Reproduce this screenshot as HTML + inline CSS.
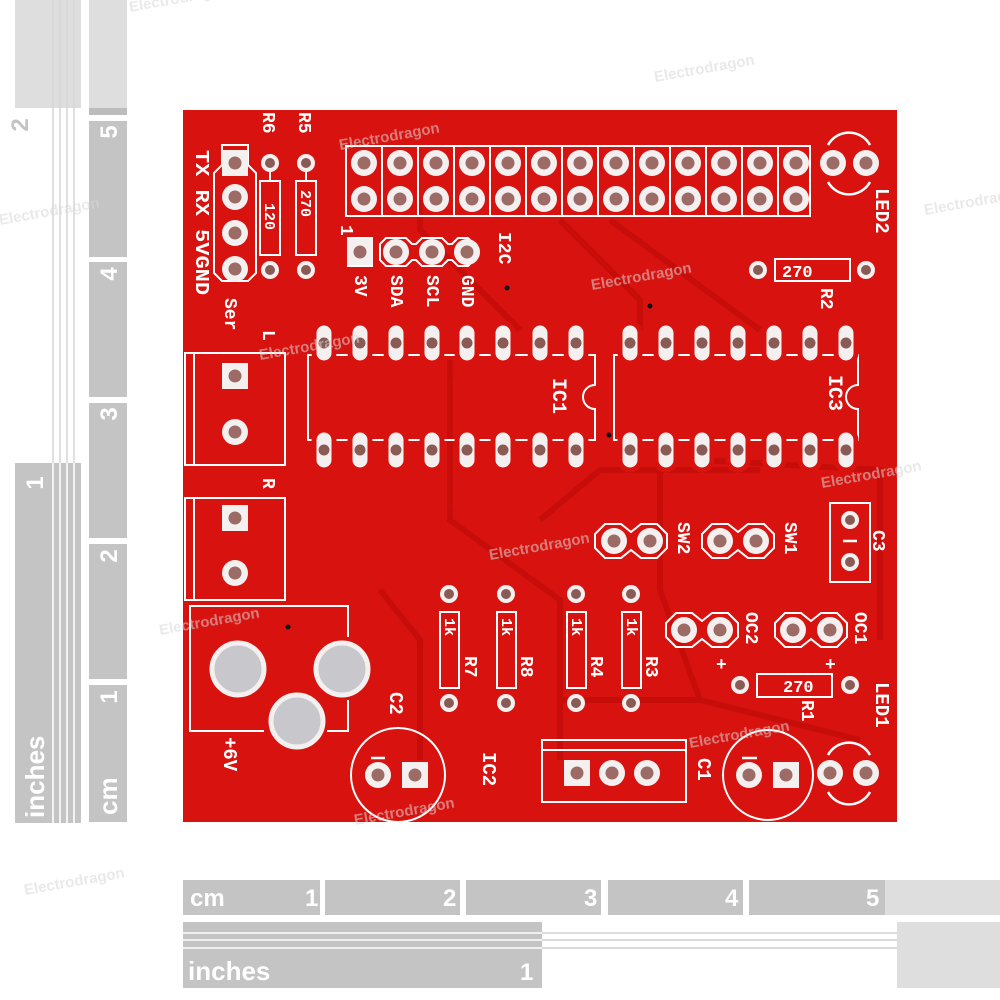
<!DOCTYPE html>
<html><head><meta charset="utf-8"><style>
html,body{margin:0;padding:0;background:#fff;}
svg{display:block;}
.s{font-family:"Liberation Mono","DejaVu Sans Mono",monospace;font-weight:bold;fill:#fff;}
.r{font-family:"Liberation Sans",sans-serif;font-weight:bold;fill:#fff;}
.w{font-family:"Liberation Sans",sans-serif;font-weight:bold;fill:#d8d8d8;font-size:15px;}
</style></head><body>
<svg width="1000" height="1000" viewBox="0 0 1000 1000" xmlns="http://www.w3.org/2000/svg">
<defs>
<g id="p"><circle r="13" fill="#f4f0f0"/><circle r="6.5" fill="#9c6b66"/></g>
<g id="q"><rect x="-13" y="-13" width="26" height="26" fill="#f4f0f0"/><circle r="6.5" fill="#9c6b66"/></g>
<g id="sp"><circle r="9" fill="#f4f0f0"/><circle r="5" fill="#8a5a55"/></g>
<g id="ov"><rect x="-10" y="-20" width="20" height="40" rx="10" fill="#f4f0f0" stroke="#d8130f" stroke-width="5"/><circle r="5.5" fill="#8a5a55"/></g>
</defs>

<!-- left inches ruler -->
<rect x="15" y="0" width="66" height="108" fill="#dedede"/>
<rect x="15" y="463" width="66" height="360" fill="#c4c4c4"/>
<g stroke="#d6d6d6" stroke-width="1.5" fill="none">
<line x1="53" y1="0" x2="53" y2="823"/><line x1="60" y1="0" x2="60" y2="823"/><line x1="67" y1="0" x2="67" y2="823"/><line x1="74" y1="0" x2="74" y2="823"/>
</g>
<g stroke="#fff" stroke-width="1.5">
<line x1="53" y1="463" x2="53" y2="823"/><line x1="60" y1="463" x2="60" y2="823"/><line x1="67" y1="463" x2="67" y2="823"/><line x1="74" y1="463" x2="74" y2="823"/>
</g>
<text class="r" x="0" y="0" font-size="24" style="fill:#c4c4c4" transform="translate(28,125) rotate(-90)" text-anchor="middle">2</text>
<text class="r" x="0" y="0" font-size="24" transform="translate(43,483) rotate(-90)" text-anchor="middle">1</text>
<text class="r" x="0" y="0" font-size="26" transform="translate(44,818) rotate(-90)">inches</text>
<!-- left cm ruler -->
<rect x="89" y="0" width="38" height="108" fill="#dedede"/>
<rect x="89" y="108" width="38" height="7" fill="#bcbcbc"/>
<g fill="#c4c4c4">
<rect x="89" y="121" width="38" height="136"/><rect x="89" y="262" width="38" height="135"/><rect x="89" y="403" width="38" height="135"/><rect x="89" y="544" width="38" height="135"/><rect x="89" y="685" width="38" height="137"/>
</g>
<g class="r" font-size="24" text-anchor="middle">
<text transform="translate(117,132) rotate(-90)">5</text>
<text transform="translate(117,274) rotate(-90)">4</text>
<text transform="translate(117,414) rotate(-90)">3</text>
<text transform="translate(117,556) rotate(-90)">2</text>
<text transform="translate(117,697) rotate(-90)">1</text>
</g>
<text class="r" font-size="26" transform="translate(117,815) rotate(-90)">cm</text>

<!-- bottom rulers -->
<g fill="#c4c4c4">
<rect x="183" y="880" width="137" height="35"/><rect x="325" y="880" width="135" height="35"/><rect x="466" y="880" width="135" height="35"/><rect x="608" y="880" width="135" height="35"/><rect x="749" y="880" width="136" height="35"/>
<rect x="183" y="922" width="359" height="66"/>
</g>
<rect x="885" y="880" width="115" height="35" fill="#dedede"/>
<rect x="897" y="922" width="103" height="66" fill="#dedede"/>
<g stroke="#fff" stroke-width="1.5"><line x1="183" y1="933" x2="542" y2="933"/><line x1="183" y1="940" x2="542" y2="940"/><line x1="183" y1="948" x2="542" y2="948"/></g>
<g stroke="#d0d0d0" stroke-width="1.5"><line x1="542" y1="933" x2="897" y2="933"/><line x1="542" y1="940" x2="897" y2="940"/><line x1="542" y1="948" x2="897" y2="948"/></g>
<g class="r" font-size="24">
<text x="190" y="906">cm</text><text x="305" y="906">1</text><text x="443" y="906">2</text><text x="584" y="906">3</text><text x="725" y="906">4</text><text x="866" y="906">5</text>
<text x="188" y="980" font-size="26">inches</text><text x="520" y="980">1</text>
</g>

<!-- PCB -->
<rect x="183" y="110" width="714" height="712" fill="#d8130f"/>
<g stroke="#c40c0a" stroke-width="6" fill="none" opacity="0.8">
<path d="M420 200 L420 230 L520 330"/><path d="M560 220 L640 300 L640 330"/><path d="M610 220 L760 330"/><path d="M450 360 L450 520 L560 600 L560 760"/><path d="M540 520 L600 470 L760 470"/><path d="M380 590 L420 640 L420 760"/><path d="M660 470 L660 590 L700 700"/><path d="M700 460 L880 470 L880 640"/><path d="M560 700 L700 700 L860 740"/>
</g>

<!-- header 2x13 -->
<g>
<use href="#p" x="364" y="163"/><use href="#p" x="364" y="199"/>
<use href="#p" x="400" y="163"/><use href="#p" x="400" y="199"/>
<use href="#p" x="436" y="163"/><use href="#p" x="436" y="199"/>
<use href="#p" x="472" y="163"/><use href="#p" x="472" y="199"/>
<use href="#p" x="508" y="163"/><use href="#p" x="508" y="199"/>
<use href="#p" x="544" y="163"/><use href="#p" x="544" y="199"/>
<use href="#p" x="580" y="163"/><use href="#p" x="580" y="199"/>
<use href="#p" x="616" y="163"/><use href="#p" x="616" y="199"/>
<use href="#p" x="652" y="163"/><use href="#p" x="652" y="199"/>
<use href="#p" x="688" y="163"/><use href="#p" x="688" y="199"/>
<use href="#p" x="724" y="163"/><use href="#p" x="724" y="199"/>
<use href="#p" x="760" y="163"/><use href="#p" x="760" y="199"/>
<use href="#p" x="796" y="163"/><use href="#p" x="796" y="199"/>
</g>
<g stroke="#fff" stroke-width="2" fill="none">
<path d="M346 146 h464 v70 h-464 z"/>
<line x1="382" y1="146" x2="382" y2="216"/><line x1="418" y1="146" x2="418" y2="216"/><line x1="454" y1="146" x2="454" y2="216"/><line x1="490" y1="146" x2="490" y2="216"/><line x1="526" y1="146" x2="526" y2="216"/><line x1="562" y1="146" x2="562" y2="216"/><line x1="598" y1="146" x2="598" y2="216"/><line x1="634" y1="146" x2="634" y2="216"/><line x1="670" y1="146" x2="670" y2="216"/><line x1="706" y1="146" x2="706" y2="216"/><line x1="742" y1="146" x2="742" y2="216"/><line x1="778" y1="146" x2="778" y2="216"/>
</g>
<!-- LED2 -->
<path d="M828 145 A24 24 0 0 1 870 145 M828 182 A24 24 0 0 0 870 182" stroke="#fff" stroke-width="2.5" fill="none"/>
<use href="#p" x="833" y="163"/><use href="#p" x="866" y="163"/>
<text class="s" font-size="19" transform="translate(876,188) rotate(90)">LED2</text>

<!-- Ser header -->
<path d="M222 145 h26 v20 l8 8 v100 l-8 8 h-26 l-8 -8 v-100 l8 -8 z" stroke="#fff" stroke-width="2" fill="none"/>
<use href="#q" x="235" y="163"/><use href="#p" x="235" y="197"/><use href="#p" x="235" y="233"/><use href="#p" x="235" y="269"/>
<text class="s" font-size="19" textLength="145" lengthAdjust="spacingAndGlyphs" transform="translate(196,150) rotate(90)">TX RX 5VGND</text>
<text class="s" font-size="18" transform="translate(225,298) rotate(90)">Ser</text>
<!-- R6 R5 -->
<use href="#sp" x="270" y="163"/><use href="#sp" x="270" y="270"/><use href="#sp" x="306" y="163"/><use href="#sp" x="306" y="270"/>
<rect x="260" y="181" width="20" height="74" fill="none" stroke="#fff" stroke-width="2"/>
<rect x="296" y="181" width="20" height="74" fill="none" stroke="#fff" stroke-width="2"/>
<line x1="270" y1="172" x2="270" y2="181" stroke="#fff" stroke-width="2"/><line x1="306" y1="172" x2="306" y2="181" stroke="#fff" stroke-width="2"/>
<text class="s" font-size="15" transform="translate(265,203) rotate(90)">120</text>
<text class="s" font-size="15" transform="translate(301,190) rotate(90)">270</text>
<text class="s" font-size="18" transform="translate(263,112) rotate(90)">R6</text>
<text class="s" font-size="18" transform="translate(299,112) rotate(90)">R5</text>

<!-- I2C -->
<path d="M348 238 h24 v28 h-24z M386 238 h20 l6 6 h4 l6 -6 h20 l6 6 h4 l6 -6 h10 l6 6 v16 l-6 6 h-10 l-6 -6 h-4 l-6 6 h-20 l-6 -6 h-4 l-6 6 h-20 l-6 -6 v-16 z" stroke="#fff" stroke-width="2" fill="none"/>
<use href="#q" x="360" y="252"/><use href="#p" x="396" y="252"/><use href="#p" x="432" y="252"/><use href="#p" x="467" y="252"/>
<text class="s" font-size="18" transform="translate(341,225) rotate(90)">1</text>
<text class="s" font-size="18" transform="translate(355,275) rotate(90)">3V</text>
<text class="s" font-size="18" transform="translate(391,275) rotate(90)">SDA</text>
<text class="s" font-size="18" transform="translate(427,275) rotate(90)">SCL</text>
<text class="s" font-size="18" transform="translate(462,275) rotate(90)">GND</text>
<text class="s" font-size="18" transform="translate(499,232) rotate(90)">I2C</text>
<circle cx="507" cy="288" r="2.5" fill="#111"/>
<circle cx="650" cy="306" r="2.5" fill="#111"/><circle cx="609" cy="435" r="2.5" fill="#111"/><circle cx="288" cy="627" r="2.5" fill="#111"/>

<!-- IC1 -->
<path d="M308 355 h287 v30 a12 12 0 0 0 0 24 v31 h-287 z" stroke="#fff" stroke-width="2" fill="none"/>
<g>
<use href="#ov" x="324" y="343"/><use href="#ov" x="360" y="343"/><use href="#ov" x="396" y="343"/><use href="#ov" x="432" y="343"/><use href="#ov" x="467" y="343"/><use href="#ov" x="503" y="343"/><use href="#ov" x="540" y="343"/><use href="#ov" x="576" y="343"/>
<use href="#ov" x="324" y="450"/><use href="#ov" x="360" y="450"/><use href="#ov" x="396" y="450"/><use href="#ov" x="432" y="450"/><use href="#ov" x="467" y="450"/><use href="#ov" x="503" y="450"/><use href="#ov" x="540" y="450"/><use href="#ov" x="576" y="450"/>
</g>
<text class="s" font-size="20" transform="translate(553,378) rotate(90)">IC1</text>
<!-- IC3 -->
<path d="M614 355 h244 v30 a12 12 0 0 0 0 24 v31 h-244 z" stroke="#fff" stroke-width="2" fill="none"/>
<use href="#ov" x="630" y="343"/><use href="#ov" x="666" y="343"/><use href="#ov" x="702" y="343"/><use href="#ov" x="738" y="343"/><use href="#ov" x="774" y="343"/><use href="#ov" x="810" y="343"/><use href="#ov" x="846" y="343"/>
<use href="#ov" x="630" y="450"/><use href="#ov" x="666" y="450"/><use href="#ov" x="702" y="450"/><use href="#ov" x="738" y="450"/><use href="#ov" x="774" y="450"/><use href="#ov" x="810" y="450"/><use href="#ov" x="846" y="450"/>
<text class="s" font-size="20" transform="translate(829,375) rotate(90)">IC3</text>

<!-- R2 -->
<use href="#sp" x="758" y="270"/><use href="#sp" x="866" y="270"/>
<rect x="775" y="259" width="75" height="22" fill="none" stroke="#fff" stroke-width="2"/>
<text class="s" font-size="17" x="782" y="277">270</text>
<text class="s" font-size="18" transform="translate(821,288) rotate(90)">R2</text>

<!-- L / R terminals -->
<rect x="185" y="353" width="100" height="112" fill="none" stroke="#fff" stroke-width="2"/><line x1="194" y1="353" x2="194" y2="465" stroke="#fff" stroke-width="2"/>
<use href="#q" x="235" y="376"/><use href="#p" x="235" y="432"/>
<text class="s" font-size="18" transform="translate(263,330) rotate(90)">L</text>
<rect x="185" y="498" width="100" height="102" fill="none" stroke="#fff" stroke-width="2"/><line x1="194" y1="498" x2="194" y2="600" stroke="#fff" stroke-width="2"/>
<use href="#q" x="235" y="518"/><use href="#p" x="235" y="573"/>
<text class="s" font-size="18" transform="translate(263,478) rotate(90)">R</text>

<!-- power jack -->
<path d="M264 731 H190 V606 H348 V637 M348 700 V731 H327" stroke="#fff" stroke-width="2" fill="none"/>
<g stroke="#f4f0f0" stroke-width="5" fill="#c8c8cc">
<circle cx="238" cy="669" r="26"/><circle cx="342" cy="669" r="26"/><circle cx="297" cy="721" r="26"/>
</g>
<text class="s" font-size="19" transform="translate(224,737) rotate(90)">+6V</text>

<!-- C2 -->
<circle cx="398" cy="775" r="47" stroke="#fff" stroke-width="2" fill="none"/>
<line x1="371" y1="758" x2="385" y2="758" stroke="#fff" stroke-width="2.5"/>
<use href="#p" x="378" y="775"/><use href="#q" x="415" y="775"/>
<text class="s" font-size="19" transform="translate(390,692) rotate(90)">C2</text>
<text class="s" font-size="19" transform="translate(483,752) rotate(90)">IC2</text>

<!-- R7 R8 R4 R3 -->
<g stroke="#fff" stroke-width="2" fill="none">
<rect x="440" y="612" width="19" height="76"/><rect x="497" y="612" width="19" height="76"/><rect x="567" y="612" width="19" height="76"/><rect x="622" y="612" width="19" height="76"/>
</g>
<use href="#sp" x="449" y="594"/><use href="#sp" x="449" y="703"/><use href="#sp" x="506" y="594"/><use href="#sp" x="506" y="703"/><use href="#sp" x="576" y="594"/><use href="#sp" x="576" y="703"/><use href="#sp" x="631" y="594"/><use href="#sp" x="631" y="703"/>
<g class="s" font-size="15">
<text transform="translate(445,618) rotate(90)">1k</text><text transform="translate(502,618) rotate(90)">1k</text><text transform="translate(572,618) rotate(90)">1k</text><text transform="translate(627,618) rotate(90)">1k</text>
</g>
<g class="s" font-size="18">
<text transform="translate(465,656) rotate(90)">R7</text><text transform="translate(521,656) rotate(90)">R8</text><text transform="translate(591,656) rotate(90)">R4</text><text transform="translate(646,656) rotate(90)">R3</text>
</g>

<!-- SW2 SW1 OC -->
<g stroke="#fff" stroke-width="2" fill="none">
<path d="M605 524 h16 l10 8 l10 -8 h16 l10 10 v14 l-10 10 h-16 l-10 -8 l-10 8 h-16 l-10 -10 v-14 z"/>
<path d="M712 524 h16 l10 8 l10 -8 h16 l10 10 v14 l-10 10 h-16 l-10 -8 l-10 8 h-16 l-10 -10 v-14 z"/>
<path d="M676 613 h16 l10 8 l10 -8 h16 l10 10 v14 l-10 10 h-16 l-10 -8 l-10 8 h-16 l-10 -10 v-14 z"/>
<path d="M785 613 h16 l10 8 l10 -8 h16 l10 10 v14 l-10 10 h-16 l-10 -8 l-10 8 h-16 l-10 -10 v-14 z"/>
<rect x="830" y="503" width="40" height="79"/>
</g>
<use href="#p" x="614" y="541"/><use href="#p" x="650" y="541"/><use href="#p" x="720" y="541"/><use href="#p" x="756" y="541"/>
<use href="#p" x="684" y="630"/><use href="#p" x="720" y="630"/><use href="#p" x="793" y="630"/><use href="#p" x="830" y="630"/>
<use href="#sp" x="850" y="520"/><use href="#sp" x="850" y="562"/>
<line x1="843" y1="541" x2="857" y2="541" stroke="#fff" stroke-width="2.5"/>
<g class="s" font-size="18">
<text transform="translate(678,522) rotate(90)">SW2</text><text transform="translate(785,522) rotate(90)">SW1</text>
<text transform="translate(873,530) rotate(90)">C3</text>
<text transform="translate(746,612) rotate(90)">OC2</text><text transform="translate(855,612) rotate(90)">OC1</text>
<text x="716" y="670">+</text><text x="825" y="670">+</text>
</g>

<!-- R1 -->
<use href="#sp" x="740" y="685"/><use href="#sp" x="850" y="685"/>
<rect x="757" y="674" width="75" height="23" fill="none" stroke="#fff" stroke-width="2"/>
<text class="s" font-size="17" x="783" y="692">270</text>
<text class="s" font-size="18" transform="translate(802,700) rotate(90)">R1</text>
<text class="s" font-size="19" transform="translate(876,682) rotate(90)">LED1</text>

<!-- IC2 regulator -->
<rect x="542" y="740" width="144" height="62" fill="none" stroke="#fff" stroke-width="2"/>
<line x1="542" y1="750" x2="686" y2="750" stroke="#fff" stroke-width="2"/>
<use href="#q" x="577" y="773"/><use href="#p" x="612" y="773"/><use href="#p" x="647" y="773"/>
<!-- C1 -->
<circle cx="768" cy="775" r="45" stroke="#fff" stroke-width="2" fill="none"/>
<line x1="742" y1="758" x2="757" y2="758" stroke="#fff" stroke-width="2.5"/>
<use href="#p" x="749" y="775"/><use href="#q" x="786" y="775"/>
<text class="s" font-size="19" transform="translate(698,758) rotate(90)">C1</text>
<!-- LED1 -->
<path d="M828 755 A24 24 0 0 1 870 755 M828 792 A24 24 0 0 0 870 792" stroke="#fff" stroke-width="2.5" fill="none"/>
<use href="#p" x="830" y="773"/><use href="#p" x="866" y="773"/>

<!-- watermarks -->
<g class="w" opacity="0.55">
<text transform="translate(130,12) rotate(-10)">Electrodragon</text>
<text transform="translate(655,82) rotate(-10)">Electrodragon</text>
<text transform="translate(0,225) rotate(-10)">Electrodragon</text>
<text transform="translate(925,215) rotate(-10)">Electrodragon</text>
<text transform="translate(340,150) rotate(-10)">Electrodragon</text>
<text transform="translate(592,290) rotate(-10)">Electrodragon</text>
<text transform="translate(260,360) rotate(-10)">Electrodragon</text>
<text transform="translate(822,488) rotate(-10)">Electrodragon</text>
<text transform="translate(490,560) rotate(-10)">Electrodragon</text>
<text transform="translate(160,635) rotate(-10)">Electrodragon</text>
<text transform="translate(690,748) rotate(-10)">Electrodragon</text>
<text transform="translate(355,825) rotate(-10)">Electrodragon</text>
<text transform="translate(25,895) rotate(-10)">Electrodragon</text>
</g>
</svg>
</body></html>
